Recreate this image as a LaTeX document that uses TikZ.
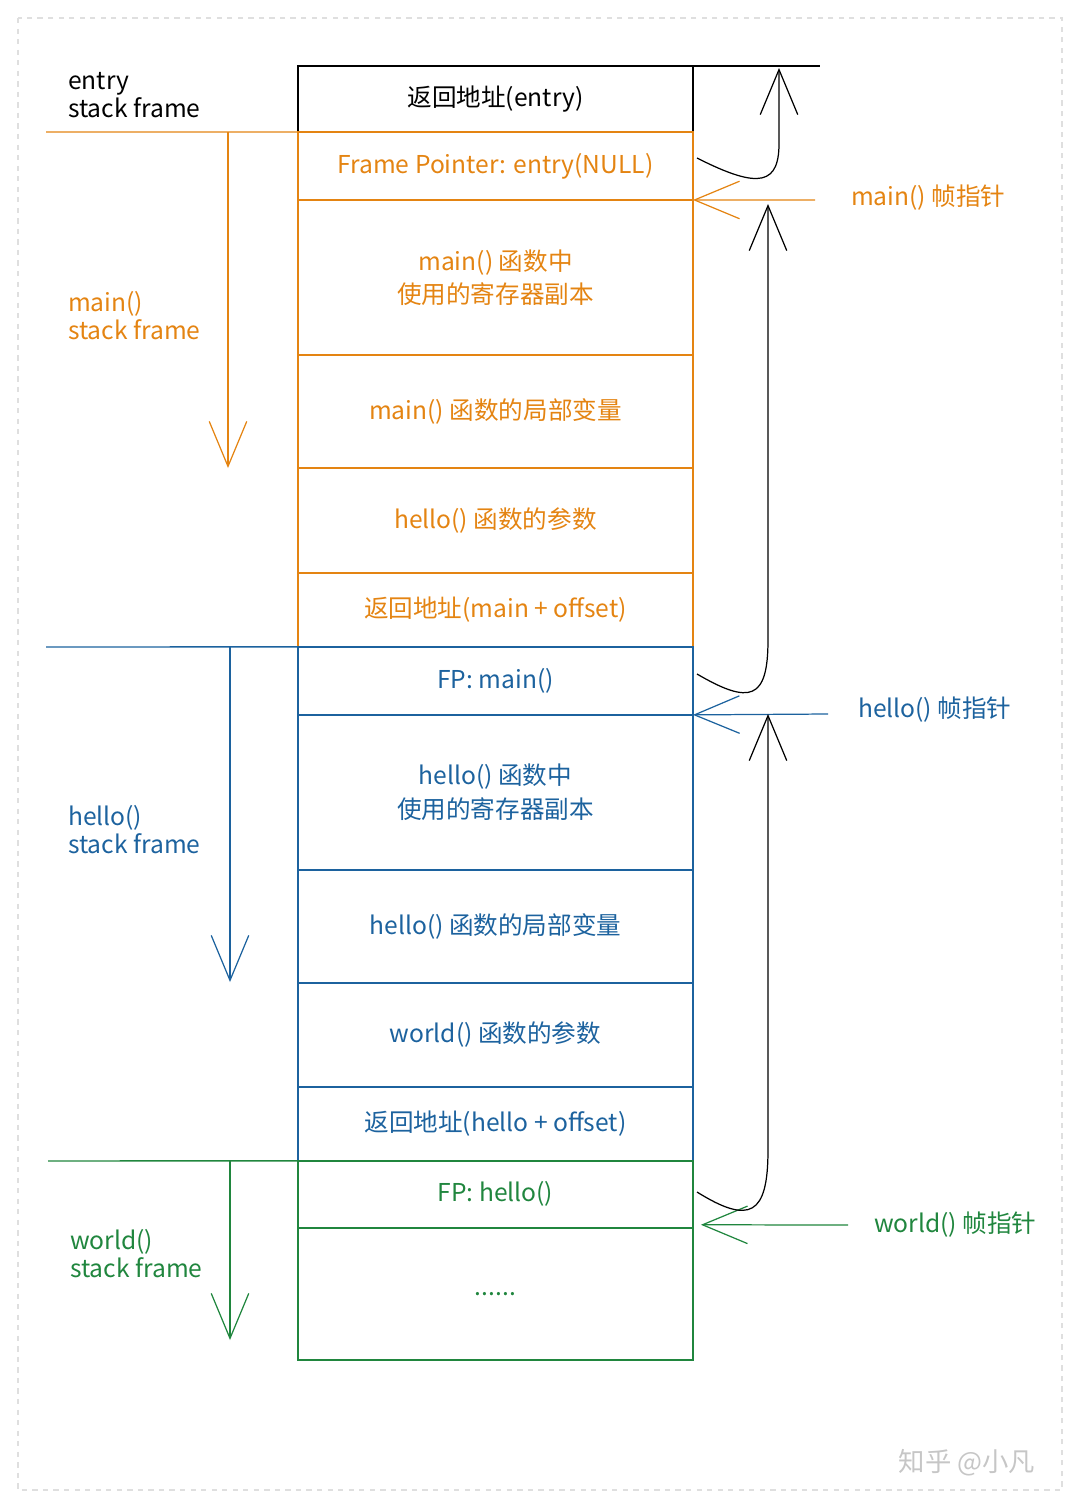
\documentclass[tikz,border=0pt]{standalone}
\usepackage{fontspec}
\setmainfont{Noto Sans CJK SC}
\usepackage{tikz}
\usetikzlibrary{arrows.meta, positioning, calc}
\definecolor{FrameOrange}{RGB}{228, 132, 18}
\definecolor{FrameBlue}{RGB}{28, 98, 158}
\definecolor{FrameGreen}{RGB}{32, 134, 62}
\tikzset{
  box/.style={draw, line width=0.9pt, minimum width=7.9cm, inner sep=0pt, outer sep=0pt, align=center,
    font=\fontsize{14}{19}\selectfont},
  lbl/.style={align=left, anchor=west, font=\fontsize{14}{16}\selectfont},
  barb/.style={-{Straight Barb[length=0.9cm, width=0.75cm]}, line width=0.7pt},
}

\begin{document}
\begin{tikzpicture}[x=0.02cm, y=-0.02cm]
  \useasboundingbox (0,0) rectangle (1080,1508);
  \draw[gray!25, dashed, line width=0.8pt] (18,18) rectangle (1062,1490);

  % stack cells
  \node[box, anchor=north west, minimum height=1.32cm] (ret0) at (298,66) {返回地址(entry)};
  \node[box, FrameOrange, below=0pt of ret0, minimum height=1.36cm] (fp0) {Frame Pointer: entry(NULL)};
  \node[box, FrameOrange, below=0pt of fp0, minimum height=3.1cm] (mreg) {main() 函数中\\使用的寄存器副本};
  \node[box, FrameOrange, below=0pt of mreg, minimum height=2.26cm] (mloc) {main() 函数的局部变量};
  \node[box, FrameOrange, below=0pt of mloc, minimum height=2.1cm] (harg) {hello() 函数的参数};
  \node[box, FrameOrange, below=0pt of harg, minimum height=1.48cm] (ret1) {返回地址(main + offset)};
  \node[box, FrameBlue, below=0pt of ret1, minimum height=1.36cm] (fp1) {FP: main()};
  \node[box, FrameBlue, below=0pt of fp1, minimum height=3.1cm] (hreg) {hello() 函数中\\使用的寄存器副本};
  \node[box, FrameBlue, below=0pt of hreg, minimum height=2.26cm] (hloc) {hello() 函数的局部变量};
  \node[box, FrameBlue, below=0pt of hloc, minimum height=2.08cm] (warg) {world() 函数的参数};
  \node[box, FrameBlue, below=0pt of warg, minimum height=1.48cm] (ret2) {返回地址(hello + offset)};
  \node[box, FrameGreen, below=0pt of ret2, minimum height=1.34cm] (fp2) {FP: hello()};
  \node[box, FrameGreen, below=0pt of fp2, minimum height=2.64cm] (rest) {......};

  % frame labels and boundaries
  \node[lbl] (lentry) at (62,95) {entry\\stack frame};
  \node[lbl, FrameOrange] (lmain) at (62,316) {main()\\stack frame};
  \node[lbl, FrameBlue] (lhello) at (62,830) {hello()\\stack frame};
  \node[lbl, FrameGreen] (lworld) at (64,1254) {world()\\stack frame};

  \coordinate (b0) at (46,132);
  \coordinate (b1) at (46,647);
  \coordinate (b2) at (48,1161);
  \draw[line width=0.8pt, FrameOrange] (b0) -- (fp0.north west);
  \draw[line width=0.8pt, FrameBlue] (b1) -- (fp1.north west);
  \draw[line width=0.8pt, FrameGreen] (b2) -- (fp2.north west);

  \coordinate (d0) at (228,468);
  \coordinate (d1) at (230,982);
  \coordinate (d2) at (230,1340);
  \draw[barb, FrameOrange] (228,132) -- (d0);
  \draw[barb, FrameBlue] (230,647) -- (d1);
  \draw[barb, FrameGreen] (230,1161) -- (d2);

  % frame pointers
  \coordinate (top) at (820,66);
  \draw[line width=0.8pt] (ret0.north east) -- (top);
  \node[lbl, FrameOrange] (pmain) at (845,198) {main() 帧指针};
  \node[lbl, FrameBlue] (phello) at (852,710) {hello() 帧指针};
  \node[lbl, FrameGreen] (pworld) at (868,1225) {world() 帧指针};
  \coordinate (e0) at (815,200);
  \coordinate (e1) at (828,714);
  \coordinate (e2) at (848,1225);
  \draw[barb, FrameOrange] (e0) -- (fp0.south east);
  \draw[barb, FrameBlue] (e1) -- (fp1.south east);
  \draw[barb, FrameGreen] (e2) -- ($(fp2.south east)+(8,-3)$);

  % saved frame pointer links
  \draw[barb, black] (697,158) .. controls (760,190) and (780,185) .. (779,140) -- (779,68);
  \draw[barb, black] (697,674) .. controls (750,705) and (768,700) .. (768,640) -- (768,204);
  \draw[barb, black] (697,1192) .. controls (750,1225) and (768,1215) .. (768,1150) -- (768,714);

  \node[gray!45, font=\fontsize{15}{18}\selectfont] (mark) at (967,1463) {知乎 @小凡};
\end{tikzpicture}
\end{document}
